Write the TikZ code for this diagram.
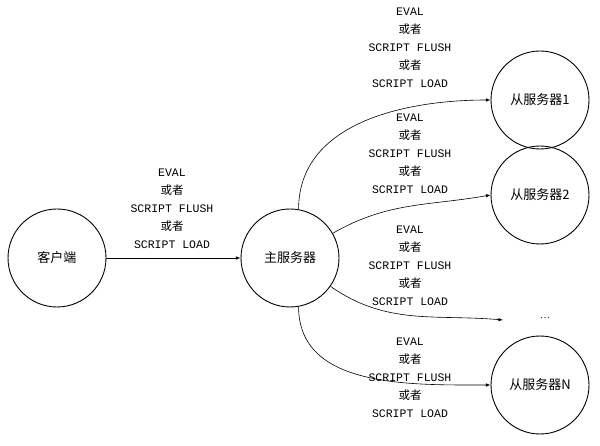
\documentclass[tikz,border=0pt]{standalone}
\usepackage{fontspec}
\setmainfont{Liberation Serif}
\newfontfamily\cjk{Noto Sans CJK SC}
\newfontfamily\mono{Liberation Mono}
\usetikzlibrary{positioning}

\begin{document}
\begin{tikzpicture}[x=1pt, y=-1pt,
      every node/.style = {align=center},
      server/.style = {circle, draw, line width=0.9pt, minimum size=98pt, font=\cjk\fontsize{13}{15}\selectfont},
      cmd/.style = {font=\mono\fontsize{11.5}{18}\selectfont, inner sep=0pt},
      flow/.style = {draw, -latex, line width=0.6pt}
    ]
    \useasboundingbox (0,0) rectangle (600,446);

    \node (client) [server] at (57,258)  {客户端};
    \node (master) [server] at (290,258) {主服务器};
    \node (slave1) [server] at (540,100) {从服务器1};
    \node (slave2) [server] at (540,195) {从服务器2};
    \node (dots)   at (545,318) {\ldots};
    \coordinate (dotsin) at (503,320);
    \node (slaveN) [server] at (540,385) {从服务器N};

    % command labels
    \node (cmd0) [cmd] at (172,209) {EVAL\\{\cjk 或者}\\SCRIPT FLUSH\\{\cjk 或者}\\SCRIPT LOAD};
    \node (cmd1) [cmd] at (410,48)  {EVAL\\{\cjk 或者}\\SCRIPT FLUSH\\{\cjk 或者}\\SCRIPT LOAD};
    \node (cmd2) [cmd] at (410,154) {EVAL\\{\cjk 或者}\\SCRIPT FLUSH\\{\cjk 或者}\\SCRIPT LOAD};
    \node (cmd3) [cmd] at (410,266) {EVAL\\{\cjk 或者}\\SCRIPT FLUSH\\{\cjk 或者}\\SCRIPT LOAD};
    \node (cmd4) [cmd] at (410,378) {EVAL\\{\cjk 或者}\\SCRIPT FLUSH\\{\cjk 或者}\\SCRIPT LOAD};

    \draw[flow] (client) -- (master);
    \draw[flow] (master.80) to[out=90, in=180] (slave1.west);
    \draw[flow] (master.30) to[out=30, in=190] (slave2.west);
    \draw[flow] (master.-35) to[out=-35, in=175] (dotsin);
    \draw[flow] (master.-80) to[out=-90, in=180] (slaveN.west);
\end{tikzpicture}
\end{document}
